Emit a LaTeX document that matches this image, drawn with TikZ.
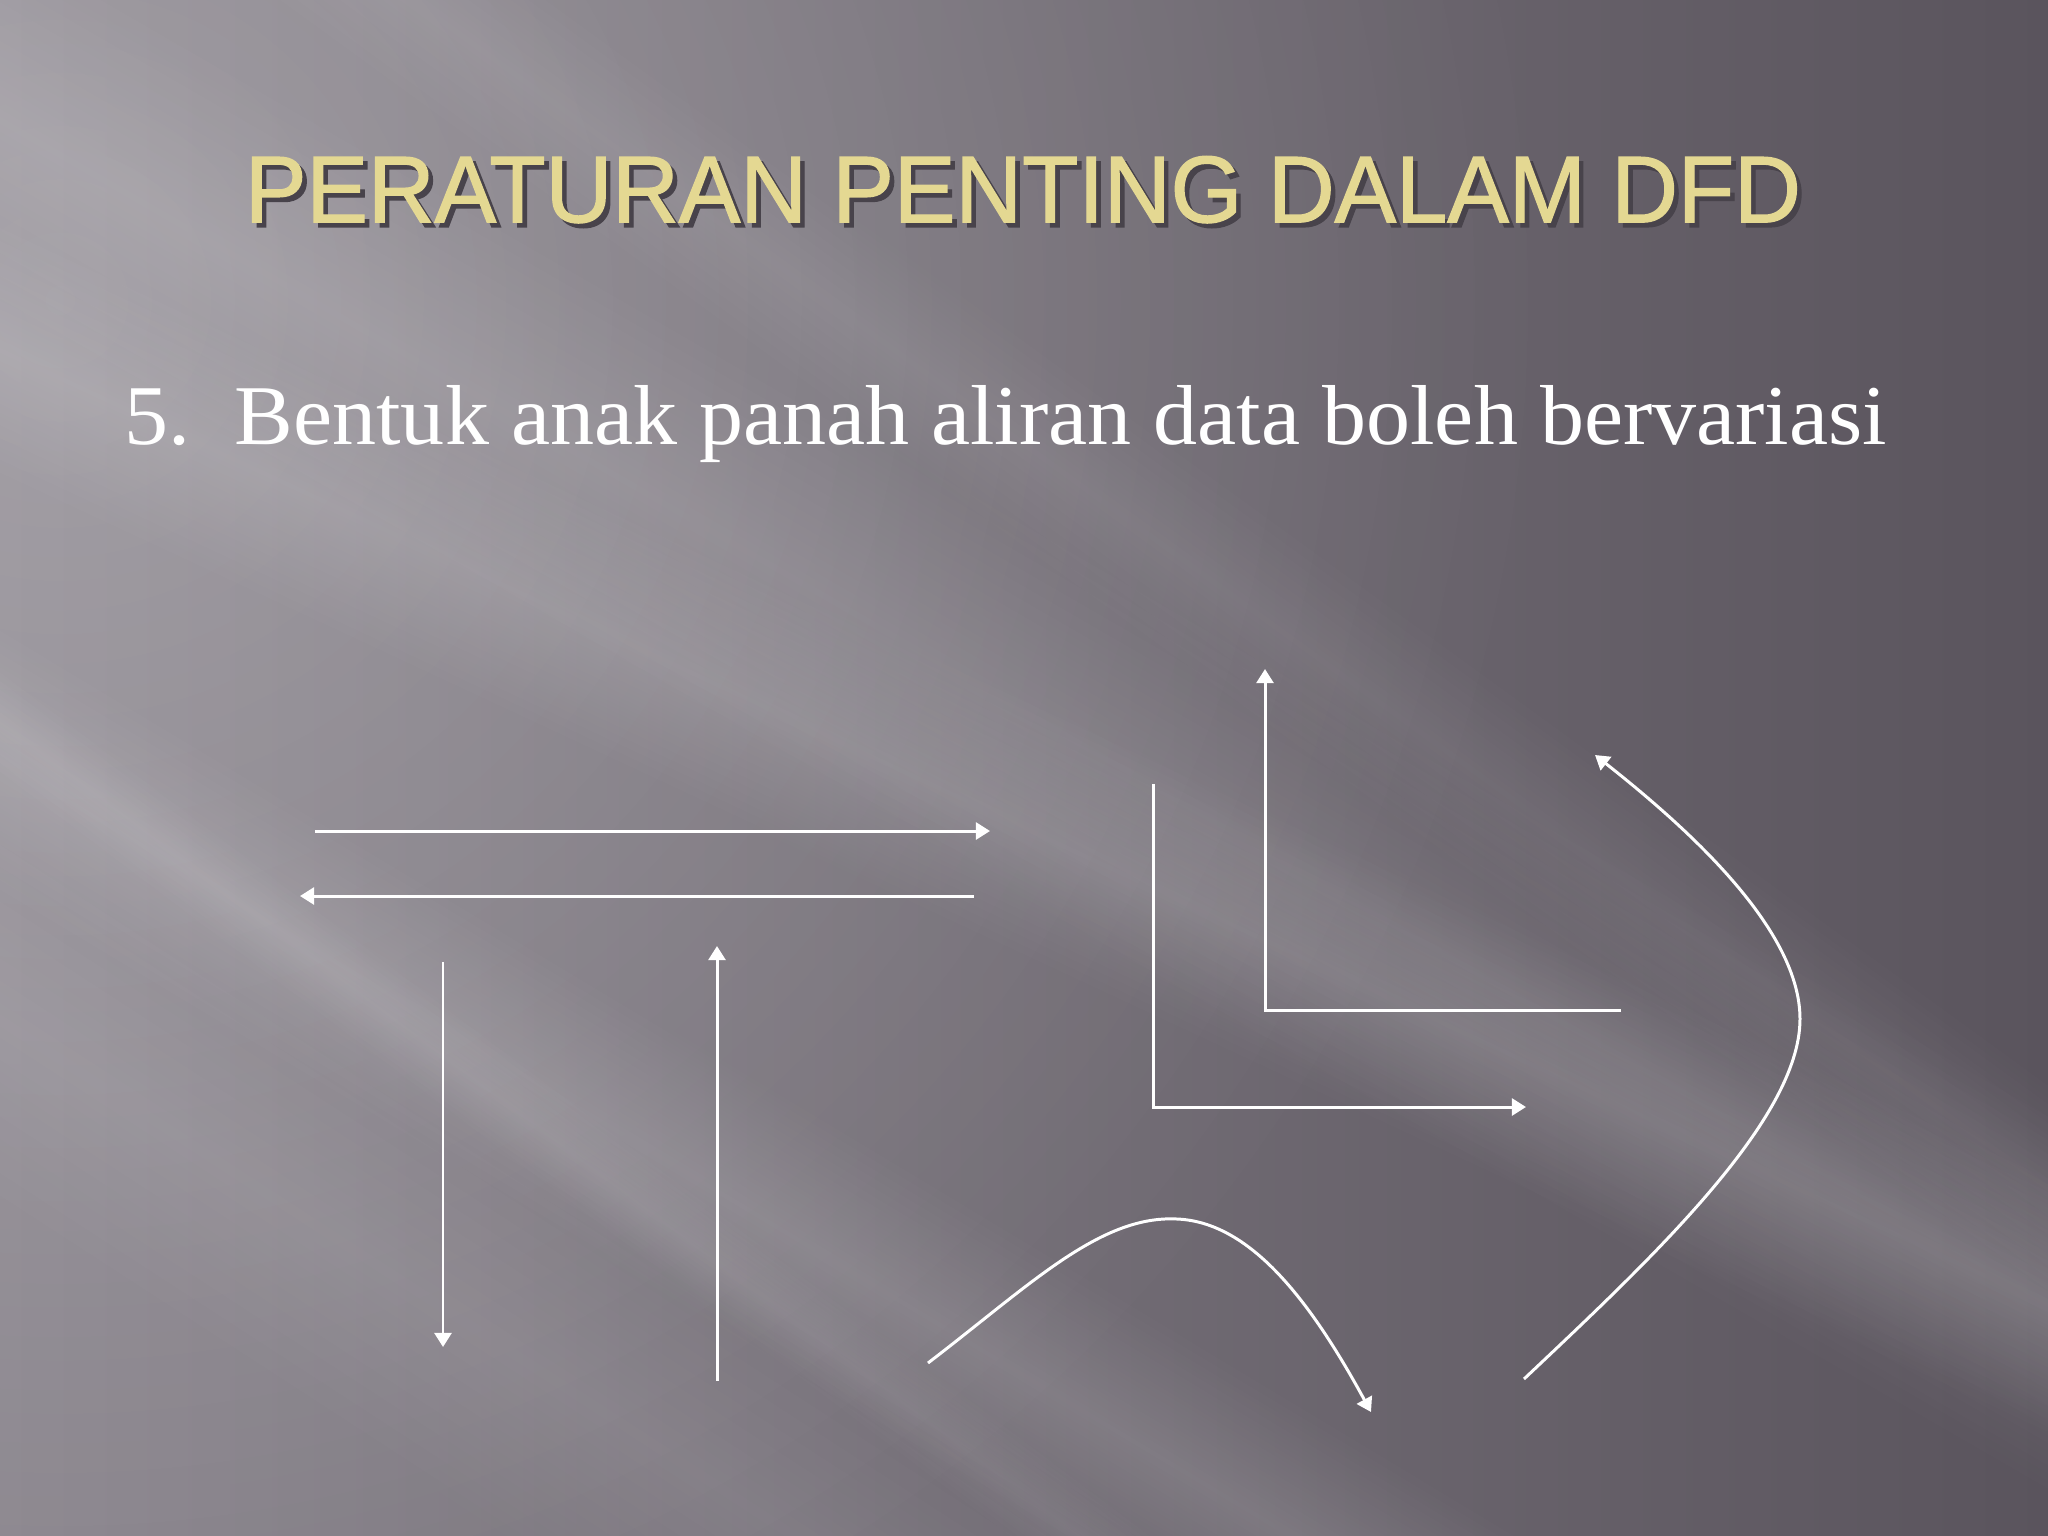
\documentclass[tikz,border=0pt]{standalone}
\usepackage{graphicx}
\usepackage{fontspec}
\setmainfont{Liberation Serif}
\newfontfamily\titlefont{Liberation Sans}[FakeBold=1.4]
\usetikzlibrary{arrows.meta,fadings}
\tikzfading[name=softband, top color=transparent!100, bottom color=transparent!100, middle color=transparent!0]
\tikzfading[name=glow, inner color=transparent!0, outer color=transparent!100]
\definecolor{bgL}{RGB}{138,133,141}
\definecolor{bgR}{RGB}{90,84,93}
\definecolor{gold}{RGB}{228,216,146}
\definecolor{tshadow}{RGB}{72,67,75}
\tikzset{
  flow/.style={draw=white, line width=0.85pt},
  flowarrow/.style={flow, -{Triangle[length=4pt,width=4.8pt]}},
  band/.style={fill=white, path fading=softband}
}
\newcommand{\lightband}[4]{% y at x=0, half width, opacity, angle
  \begin{scope}[transform canvas={rotate around={#4:(0,#1)}}]
    \fill[band, fill opacity=#3] (-900,#1-#2) rectangle (3400,#1+#2);
  \end{scope}}
\newcommand{\titletext}{PERATURAN PENTING DALAM DFD}
\begin{document}
\begin{tikzpicture}[x=0.01cm,y=-0.01cm]
\useasboundingbox (0,0) rectangle (2048,1536);
\clip (0,0) rectangle (2048,1536);
\shade[left color=bgL, right color=bgR] (0,0) rectangle (2048,1536);
\fill[white, fill opacity=0.22, path fading=glow] (60,300) circle (1500);
\lightband{350}{120}{0.12}{-25}
\lightband{120}{170}{0.10}{-30}
\lightband{760}{120}{0.12}{-31}
\lightband{722}{45}{0.08}{-37}
\lightband{1020}{170}{0.07}{-33}
\lightband{-300}{90}{0.07}{-36}
% title with shadow
\node[inner sep=0] (title) at (1023,192)
  {\resizebox{15.55cm}{0.66cm}{\titlefont\rlap{\kern0.05em\raisebox{-0.05em}{\color{tshadow}\titletext}}\color{gold}\titletext}};
% subtitle
\node[inner sep=0, anchor=base west, text=white] (sub) at (124,444)
  {\resizebox{17.61cm}{0.59cm}{5.\hspace{0.5em}Bentuk anak panah aliran data boleh bervariasi}};
% coordinates
\coordinate (h1s) at (315,831);
\coordinate (h1e) at (990,831);
\coordinate (h2s) at (974,896);
\coordinate (h2e) at (300,896);
\coordinate (v1s) at (443,962);
\coordinate (v1e) at (443,1347);
\coordinate (v2s) at (717,1381);
\coordinate (v2e) at (717,946);
\coordinate (l1s) at (1153,784);
\coordinate (l1c) at (1153,1107);
\coordinate (l1e) at (1526,1107);
\coordinate (l2s) at (1621,1010);
\coordinate (l2c) at (1265,1010);
\coordinate (l2e) at (1265,669);
\coordinate (c1s) at (928,1363);
\coordinate (c1m) at (1177,1219);
\coordinate (c1e) at (1371,1412);
\coordinate (c2s) at (1524,1379);
\coordinate (c2m) at (1800,1019);
\coordinate (c2e) at (1595,755);
% arrows
\draw[flowarrow] (h1s) -- (h1e);
\draw[flowarrow] (h2s) -- (h2e);
\draw[flowarrow] (v1s) -- (v1e);
\draw[flowarrow] (v2s) -- (v2e);
\draw[flowarrow] (l1s) -- (l1c) -- (l1e);
\draw[flowarrow] (l2s) -- (l2c) -- (l2e);
\draw[flowarrow] (c1s) .. controls (1030,1285) and (1100,1215) .. (c1m)
                       .. controls (1250,1222) and (1310,1300) .. (c1e);
\draw[flowarrow] (c2s) .. controls (1650,1260) and (1800,1120) .. (c2m)
                       .. controls (1800,930) and (1690,830) .. (c2e);
\end{tikzpicture}
\end{document}
